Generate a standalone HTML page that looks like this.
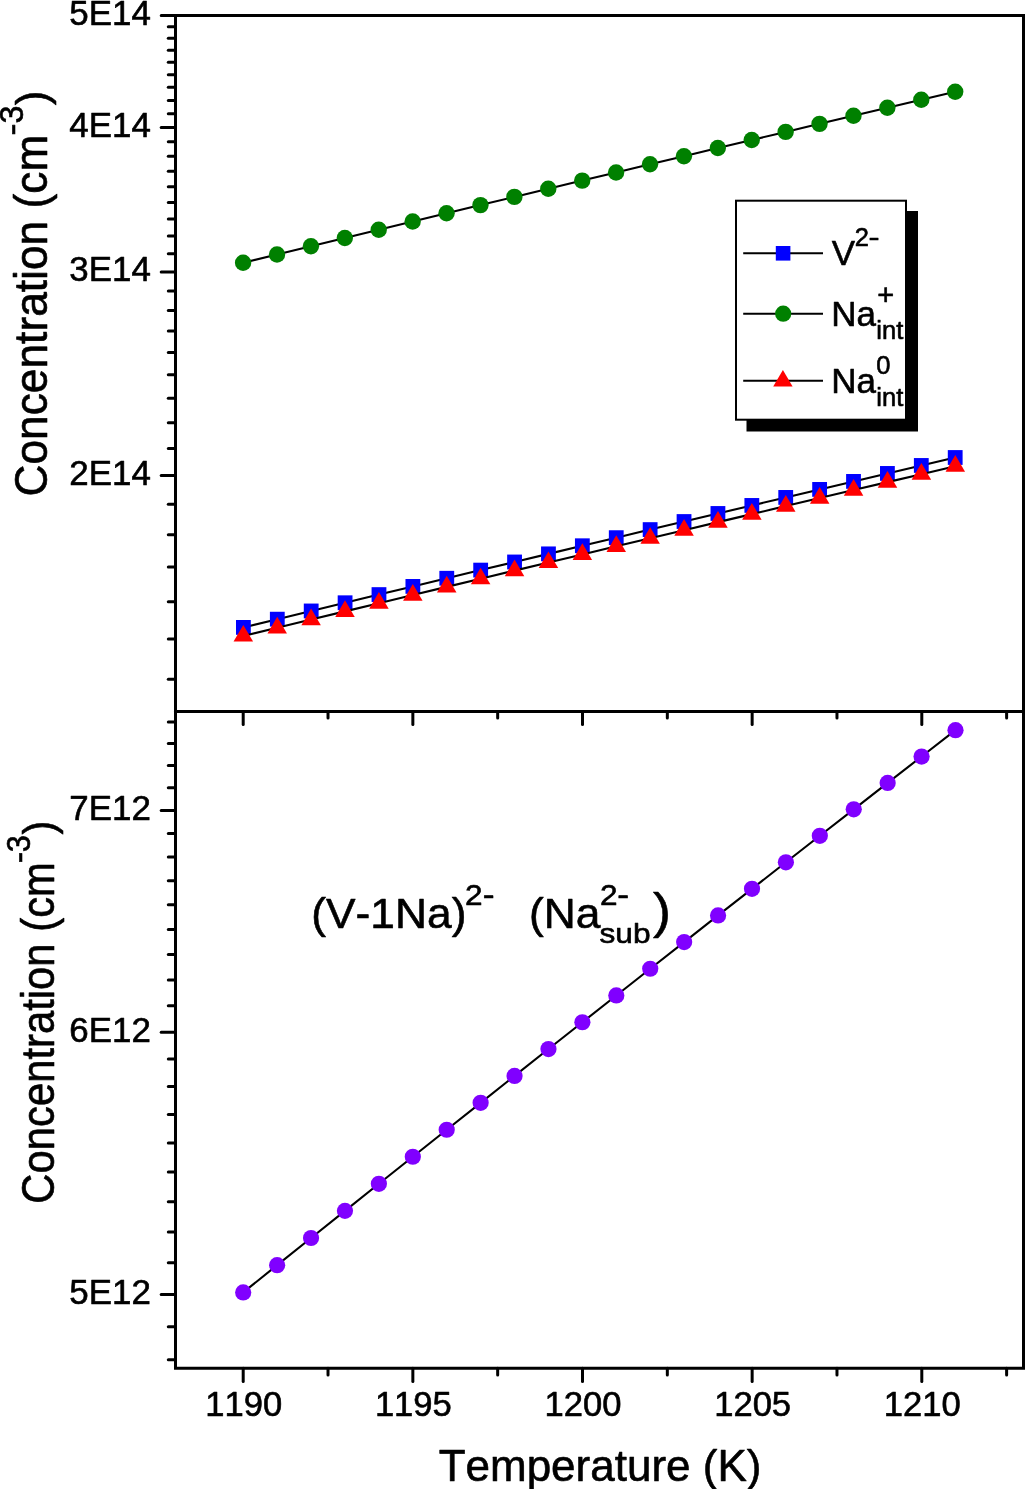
<!DOCTYPE html>
<html lang="en"><head><meta charset="utf-8"><title>Concentration vs Temperature</title>
<style>
html,body{margin:0;padding:0;background:#fff;}
body{width:1025px;height:1489px;overflow:hidden;}
svg{display:block;}
text{font-family:"Liberation Sans", Arial, sans-serif;fill:#000;font-kerning:none;stroke:#000;stroke-width:0.6px;stroke-linejoin:round;}
.ax{stroke:#000;stroke-width:3;stroke-linecap:round;fill:none;}
.ln{stroke:#000;stroke-width:2.1;fill:none;}
</style></head><body>
<svg width="1025" height="1489" viewBox="0 0 1025 1489">
<rect width="1025" height="1489" fill="#fff"/>
<g id="data">
<polyline class="ln" points="243.10,262.80 277.01,254.52 310.92,246.25 344.83,237.99 378.74,229.75 412.65,221.52 446.56,213.30 480.47,205.10 514.38,196.91 548.29,188.74 582.20,180.58 616.10,172.43 650.01,164.30 683.92,156.18 717.83,148.07 751.74,139.98 785.65,131.90 819.56,123.83 853.47,115.78 887.38,107.74 921.29,99.71 955.20,91.70"/>
<circle cx="243.10" cy="262.80" r="8.2" fill="#008000"/>
<circle cx="277.01" cy="254.52" r="8.2" fill="#008000"/>
<circle cx="310.92" cy="246.25" r="8.2" fill="#008000"/>
<circle cx="344.83" cy="237.99" r="8.2" fill="#008000"/>
<circle cx="378.74" cy="229.75" r="8.2" fill="#008000"/>
<circle cx="412.65" cy="221.52" r="8.2" fill="#008000"/>
<circle cx="446.56" cy="213.30" r="8.2" fill="#008000"/>
<circle cx="480.47" cy="205.10" r="8.2" fill="#008000"/>
<circle cx="514.38" cy="196.91" r="8.2" fill="#008000"/>
<circle cx="548.29" cy="188.74" r="8.2" fill="#008000"/>
<circle cx="582.20" cy="180.58" r="8.2" fill="#008000"/>
<circle cx="616.10" cy="172.43" r="8.2" fill="#008000"/>
<circle cx="650.01" cy="164.30" r="8.2" fill="#008000"/>
<circle cx="683.92" cy="156.18" r="8.2" fill="#008000"/>
<circle cx="717.83" cy="148.07" r="8.2" fill="#008000"/>
<circle cx="751.74" cy="139.98" r="8.2" fill="#008000"/>
<circle cx="785.65" cy="131.90" r="8.2" fill="#008000"/>
<circle cx="819.56" cy="123.83" r="8.2" fill="#008000"/>
<circle cx="853.47" cy="115.78" r="8.2" fill="#008000"/>
<circle cx="887.38" cy="107.74" r="8.2" fill="#008000"/>
<circle cx="921.29" cy="99.71" r="8.2" fill="#008000"/>
<circle cx="955.20" cy="91.70" r="8.2" fill="#008000"/>
<polyline class="ln" points="243.40,627.40 277.30,619.17 311.19,610.96 345.09,602.76 378.98,594.58 412.88,586.41 446.77,578.25 480.67,570.10 514.56,561.97 548.46,553.86 582.35,545.75 616.25,537.66 650.14,529.59 684.04,521.52 717.93,513.47 751.83,505.44 785.72,497.42 819.62,489.41 853.51,481.41 887.41,473.43 921.30,465.46 955.20,457.50"/>
<rect x="236.00" y="620.00" width="14.80" height="14.80" fill="#0000ff"/>
<rect x="269.90" y="611.77" width="14.80" height="14.80" fill="#0000ff"/>
<rect x="303.79" y="603.56" width="14.80" height="14.80" fill="#0000ff"/>
<rect x="337.69" y="595.36" width="14.80" height="14.80" fill="#0000ff"/>
<rect x="371.58" y="587.18" width="14.80" height="14.80" fill="#0000ff"/>
<rect x="405.48" y="579.01" width="14.80" height="14.80" fill="#0000ff"/>
<rect x="439.37" y="570.85" width="14.80" height="14.80" fill="#0000ff"/>
<rect x="473.27" y="562.70" width="14.80" height="14.80" fill="#0000ff"/>
<rect x="507.16" y="554.57" width="14.80" height="14.80" fill="#0000ff"/>
<rect x="541.06" y="546.46" width="14.80" height="14.80" fill="#0000ff"/>
<rect x="574.95" y="538.35" width="14.80" height="14.80" fill="#0000ff"/>
<rect x="608.85" y="530.26" width="14.80" height="14.80" fill="#0000ff"/>
<rect x="642.74" y="522.19" width="14.80" height="14.80" fill="#0000ff"/>
<rect x="676.64" y="514.12" width="14.80" height="14.80" fill="#0000ff"/>
<rect x="710.53" y="506.07" width="14.80" height="14.80" fill="#0000ff"/>
<rect x="744.43" y="498.04" width="14.80" height="14.80" fill="#0000ff"/>
<rect x="778.32" y="490.02" width="14.80" height="14.80" fill="#0000ff"/>
<rect x="812.22" y="482.01" width="14.80" height="14.80" fill="#0000ff"/>
<rect x="846.11" y="474.01" width="14.80" height="14.80" fill="#0000ff"/>
<rect x="880.01" y="466.03" width="14.80" height="14.80" fill="#0000ff"/>
<rect x="913.90" y="458.06" width="14.80" height="14.80" fill="#0000ff"/>
<rect x="947.80" y="450.10" width="14.80" height="14.80" fill="#0000ff"/>
<polyline class="ln" points="243.30,636.00 277.20,627.78 311.11,619.57 345.01,611.38 378.92,603.20 412.82,595.03 446.73,586.88 480.63,578.74 514.54,570.61 548.44,562.50 582.35,554.40 616.25,546.32 650.16,538.24 684.06,530.19 717.97,522.14 751.87,514.11 785.78,506.09 819.68,498.09 853.59,490.10 887.49,482.12 921.40,474.15 955.30,466.20"/>
<polygon points="243.30,624.90 253.05,641.60 233.55,641.60" fill="#ff0000"/>
<polygon points="277.20,616.68 286.95,633.38 267.45,633.38" fill="#ff0000"/>
<polygon points="311.11,608.47 320.86,625.17 301.36,625.17" fill="#ff0000"/>
<polygon points="345.01,600.28 354.76,616.98 335.26,616.98" fill="#ff0000"/>
<polygon points="378.92,592.10 388.67,608.80 369.17,608.80" fill="#ff0000"/>
<polygon points="412.82,583.93 422.57,600.63 403.07,600.63" fill="#ff0000"/>
<polygon points="446.73,575.78 456.48,592.48 436.98,592.48" fill="#ff0000"/>
<polygon points="480.63,567.64 490.38,584.34 470.88,584.34" fill="#ff0000"/>
<polygon points="514.54,559.51 524.29,576.21 504.79,576.21" fill="#ff0000"/>
<polygon points="548.44,551.40 558.19,568.10 538.69,568.10" fill="#ff0000"/>
<polygon points="582.35,543.30 592.10,560.00 572.60,560.00" fill="#ff0000"/>
<polygon points="616.25,535.22 626.00,551.92 606.50,551.92" fill="#ff0000"/>
<polygon points="650.16,527.14 659.91,543.84 640.41,543.84" fill="#ff0000"/>
<polygon points="684.06,519.09 693.81,535.79 674.31,535.79" fill="#ff0000"/>
<polygon points="717.97,511.04 727.72,527.74 708.22,527.74" fill="#ff0000"/>
<polygon points="751.87,503.01 761.62,519.71 742.12,519.71" fill="#ff0000"/>
<polygon points="785.78,494.99 795.53,511.69 776.03,511.69" fill="#ff0000"/>
<polygon points="819.68,486.99 829.43,503.69 809.93,503.69" fill="#ff0000"/>
<polygon points="853.59,479.00 863.34,495.70 843.84,495.70" fill="#ff0000"/>
<polygon points="887.49,471.02 897.24,487.72 877.74,487.72" fill="#ff0000"/>
<polygon points="921.40,463.05 931.15,479.75 911.65,479.75" fill="#ff0000"/>
<polygon points="955.30,455.10 965.05,471.80 945.55,471.80" fill="#ff0000"/>
<polyline class="ln" points="243.20,1292.40 277.12,1265.18 311.04,1238.00 344.96,1210.87 378.88,1183.79 412.80,1156.75 446.71,1129.76 480.63,1102.81 514.55,1075.90 548.47,1049.05 582.39,1022.23 616.31,995.46 650.23,968.74 684.15,942.06 718.07,915.42 751.99,888.83 785.90,862.28 819.82,835.78 853.74,809.32 887.66,782.90 921.58,756.53 955.50,730.20"/>
<circle cx="243.20" cy="1292.40" r="8.1" fill="#8000ff"/>
<circle cx="277.12" cy="1265.18" r="8.1" fill="#8000ff"/>
<circle cx="311.04" cy="1238.00" r="8.1" fill="#8000ff"/>
<circle cx="344.96" cy="1210.87" r="8.1" fill="#8000ff"/>
<circle cx="378.88" cy="1183.79" r="8.1" fill="#8000ff"/>
<circle cx="412.80" cy="1156.75" r="8.1" fill="#8000ff"/>
<circle cx="446.71" cy="1129.76" r="8.1" fill="#8000ff"/>
<circle cx="480.63" cy="1102.81" r="8.1" fill="#8000ff"/>
<circle cx="514.55" cy="1075.90" r="8.1" fill="#8000ff"/>
<circle cx="548.47" cy="1049.05" r="8.1" fill="#8000ff"/>
<circle cx="582.39" cy="1022.23" r="8.1" fill="#8000ff"/>
<circle cx="616.31" cy="995.46" r="8.1" fill="#8000ff"/>
<circle cx="650.23" cy="968.74" r="8.1" fill="#8000ff"/>
<circle cx="684.15" cy="942.06" r="8.1" fill="#8000ff"/>
<circle cx="718.07" cy="915.42" r="8.1" fill="#8000ff"/>
<circle cx="751.99" cy="888.83" r="8.1" fill="#8000ff"/>
<circle cx="785.90" cy="862.28" r="8.1" fill="#8000ff"/>
<circle cx="819.82" cy="835.78" r="8.1" fill="#8000ff"/>
<circle cx="853.74" cy="809.32" r="8.1" fill="#8000ff"/>
<circle cx="887.66" cy="782.90" r="8.1" fill="#8000ff"/>
<circle cx="921.58" cy="756.53" r="8.1" fill="#8000ff"/>
<circle cx="955.50" cy="730.20" r="8.1" fill="#8000ff"/>
</g>
<g id="axes" class="ax">
<path d="M161.2,15.5 H1023.5 V1368.2 H175.5 V15.5"/>
<path d="M175.5,711.4 H1023.5"/>
<path d="M168.3,679.14 H175.5"/>
<path d="M168.3,638.95 H175.5"/>
<path d="M168.3,601.74 H175.5"/>
<path d="M168.3,567.10 H175.5"/>
<path d="M168.3,534.70 H175.5"/>
<path d="M168.3,504.26 H175.5"/>
<path d="M161.2,475.56 H175.5"/>
<path d="M168.3,448.41 H175.5"/>
<path d="M168.3,422.66 H175.5"/>
<path d="M168.3,398.16 H175.5"/>
<path d="M168.3,374.80 H175.5"/>
<path d="M168.3,352.49 H175.5"/>
<path d="M168.3,331.12 H175.5"/>
<path d="M168.3,310.62 H175.5"/>
<path d="M168.3,290.93 H175.5"/>
<path d="M161.2,271.98 H175.5"/>
<path d="M168.3,253.72 H175.5"/>
<path d="M168.3,236.10 H175.5"/>
<path d="M168.3,219.08 H175.5"/>
<path d="M168.3,202.62 H175.5"/>
<path d="M168.3,186.68 H175.5"/>
<path d="M168.3,171.23 H175.5"/>
<path d="M168.3,156.24 H175.5"/>
<path d="M168.3,141.68 H175.5"/>
<path d="M161.2,127.54 H175.5"/>
<path d="M168.3,113.78 H175.5"/>
<path d="M168.3,100.39 H175.5"/>
<path d="M168.3,87.35 H175.5"/>
<path d="M168.3,74.64 H175.5"/>
<path d="M168.3,62.24 H175.5"/>
<path d="M168.3,50.14 H175.5"/>
<path d="M168.3,38.33 H175.5"/>
<path d="M168.3,26.78 H175.5"/>
<path d="M168.3,1359.87 H175.5"/>
<path d="M168.3,1326.80 H175.5"/>
<path d="M161.2,1294.48 H175.5"/>
<path d="M168.3,1262.86 H175.5"/>
<path d="M168.3,1231.93 H175.5"/>
<path d="M168.3,1201.64 H175.5"/>
<path d="M168.3,1171.99 H175.5"/>
<path d="M168.3,1142.93 H175.5"/>
<path d="M168.3,1114.44 H175.5"/>
<path d="M168.3,1086.51 H175.5"/>
<path d="M168.3,1059.11 H175.5"/>
<path d="M161.2,1032.23 H175.5"/>
<path d="M168.3,1005.83 H175.5"/>
<path d="M168.3,979.92 H175.5"/>
<path d="M168.3,954.46 H175.5"/>
<path d="M168.3,929.44 H175.5"/>
<path d="M168.3,904.85 H175.5"/>
<path d="M168.3,880.68 H175.5"/>
<path d="M168.3,856.90 H175.5"/>
<path d="M168.3,833.51 H175.5"/>
<path d="M161.2,810.50 H175.5"/>
<path d="M168.3,787.85 H175.5"/>
<path d="M168.3,765.55 H175.5"/>
<path d="M168.3,743.59 H175.5"/>
<path d="M168.3,721.96 H175.5"/>
<path d="M243.20,711.4 V724.60"/>
<path d="M328.02,711.4 V718.10"/>
<path d="M412.85,711.4 V724.60"/>
<path d="M497.67,711.4 V718.10"/>
<path d="M582.50,711.4 V724.60"/>
<path d="M667.33,711.4 V718.10"/>
<path d="M752.15,711.4 V724.60"/>
<path d="M836.97,711.4 V718.10"/>
<path d="M921.80,711.4 V724.60"/>
<path d="M1006.62,711.4 V718.10"/>
<path d="M243.20,1368.2 V1381.40"/>
<path d="M328.02,1368.2 V1374.90"/>
<path d="M412.85,1368.2 V1381.40"/>
<path d="M497.67,1368.2 V1374.90"/>
<path d="M582.50,1368.2 V1381.40"/>
<path d="M667.33,1368.2 V1374.90"/>
<path d="M752.15,1368.2 V1381.40"/>
<path d="M836.97,1368.2 V1374.90"/>
<path d="M921.80,1368.2 V1381.40"/>
<path d="M1006.62,1368.2 V1374.90"/>
</g>
<g id="ticklabels">
<text transform="translate(150.80,24.80) scale(1,1.03)" font-size="34.9" text-anchor="end">5E14</text>
<text transform="translate(150.80,136.84) scale(1,1.03)" font-size="34.9" text-anchor="end">4E14</text>
<text transform="translate(150.80,281.28) scale(1,1.03)" font-size="34.9" text-anchor="end">3E14</text>
<text transform="translate(150.80,484.86) scale(1,1.03)" font-size="34.9" text-anchor="end">2E14</text>
<text transform="translate(150.80,819.80) scale(1,1.03)" font-size="34.9" text-anchor="end">7E12</text>
<text transform="translate(150.80,1041.53) scale(1,1.03)" font-size="34.9" text-anchor="end">6E12</text>
<text transform="translate(150.80,1303.78) scale(1,1.03)" font-size="34.9" text-anchor="end">5E12</text>
<text transform="translate(243.70,1416.40)" font-size="34.6" text-anchor="middle">1190</text>
<text transform="translate(413.35,1416.40)" font-size="34.6" text-anchor="middle">1195</text>
<text transform="translate(583.00,1416.40)" font-size="34.6" text-anchor="middle">1200</text>
<text transform="translate(752.65,1416.40)" font-size="34.6" text-anchor="middle">1205</text>
<text transform="translate(922.30,1416.40)" font-size="34.6" text-anchor="middle">1210</text>
</g>
<g id="titles">
<text transform="translate(600.00,1481.20)" font-size="44" text-anchor="middle">Temperature (K)</text>
<g transform="translate(46.8,496.5) rotate(-90)">
<text transform="scale(0.9955,1.02)" font-size="44.5">Concentration (cm</text>
<text transform="translate(361.1,-23.6) scale(1.1,1)" font-size="32.5">-</text>
<text transform="translate(373,-23.6) scale(0.9955,1)" font-size="32.5">3</text>
<text transform="translate(391.2,0) scale(0.9955,1)" font-size="44.5">)</text>
</g>
<g transform="translate(53.8,1203.7) rotate(-90)">
<text transform="scale(0.94,1.02)" font-size="44.5">Concentration (cm</text>
<text transform="translate(340.5,-23.6) scale(1.05,1)" font-size="32.5">-</text>
<text transform="translate(351.5,-23.6) scale(0.94,1)" font-size="32.5">3</text>
<text transform="translate(369.2,0) scale(0.94,1)" font-size="44.5">)</text>
</g>
</g>
<g id="legend">
<rect x="746.5" y="211" width="171.5" height="220.5" fill="#000"/>
<rect x="736" y="200.7" width="170" height="219" fill="#fff" stroke="#000" stroke-width="2"/>
<path class="ln" d="M743.2,253.3 H823"/>
<path class="ln" d="M743.2,313.7 H823"/>
<path class="ln" d="M743.2,380.8 H823"/>
<rect x="775.80" y="246.00" width="14.60" height="14.60" fill="#0000ff"/>
<circle cx="783.20" cy="313.70" r="8.1" fill="#008000"/>
<polygon points="782.90,370.00 792.60,386.50 773.20,386.50" fill="#ff0000"/>
<text transform="translate(831.70,264.80)" font-size="35">V</text>
<text transform="translate(854.80,245.90)" font-size="25.5">2</text>
<text transform="translate(868.60,245.90) scale(1.3,1.0)" font-size="25.5">-</text>
<text transform="translate(831.30,325.65)" font-size="35">Na</text>
<text transform="translate(877.30,305.40)" font-size="29">+</text>
<text transform="translate(876.30,338.65)" font-size="25.5">int</text>
<text transform="translate(831.30,392.85)" font-size="35">Na</text>
<text transform="translate(876.20,373.50)" font-size="25.5">0</text>
<text transform="translate(876.30,405.85)" font-size="25.5">int</text>
</g>
<g id="annotation">
<text transform="translate(311.30,927.70) scale(1.043,1.0)" font-size="42.5">(V-1Na)</text>
<text transform="translate(465.00,904.90) scale(1.07,1.0)" font-size="29.5">2</text>
<text transform="translate(482.80,904.90) scale(1.2,1.0)" font-size="29.5">-</text>
<text transform="translate(529.00,927.70) scale(1.043,1.0)" font-size="42.5">(Na</text>
<text transform="translate(600.00,904.70) scale(1.07,1.0)" font-size="29.5">2</text>
<text transform="translate(617.20,904.70) scale(1.2,1.0)" font-size="29.5">-</text>
<text transform="translate(599.50,943.30) scale(1.12,1.0)" font-size="28.3">sub</text>
<text transform="translate(652.90,928.30) scale(1.08,1.0)" font-size="50">)</text>
</g>
</svg></body></html>
